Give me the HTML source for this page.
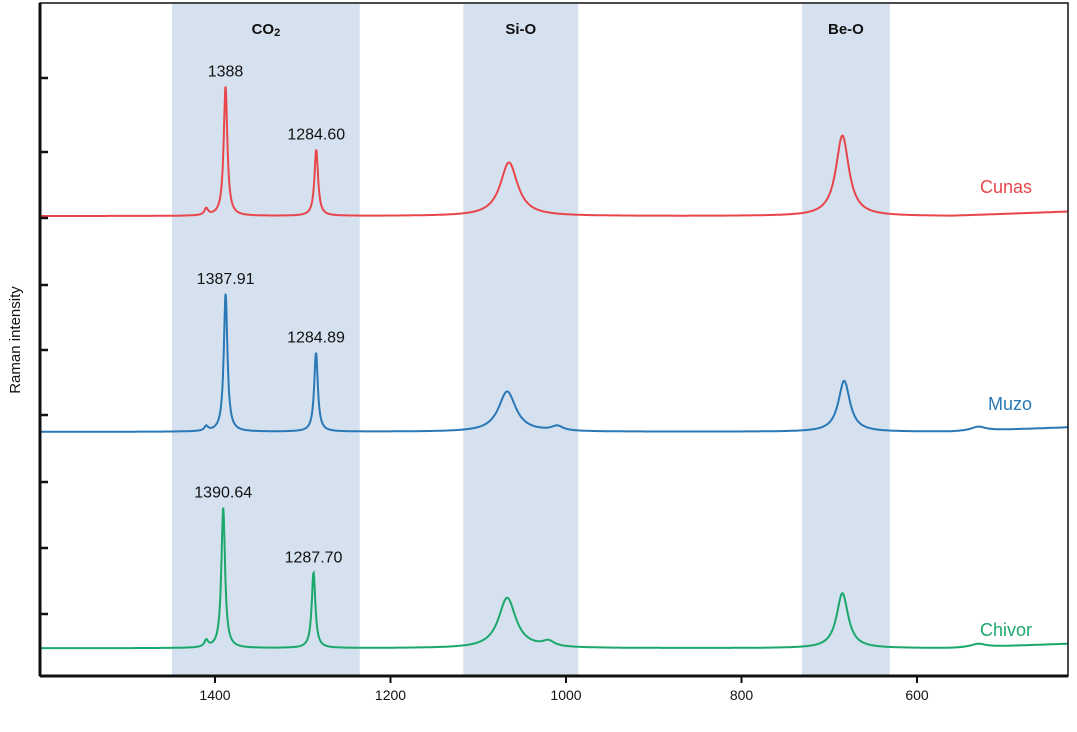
<!DOCTYPE html>
<html><head><meta charset="utf-8"><style>
body{margin:0;background:#fff;font-family:"Liberation Sans",Arial,sans-serif}
svg text{font-family:"Liberation Sans",Arial,sans-serif}
</style></head><body>
<svg id="c" width="1077" height="727" viewBox="0 0 1077 727">
<g id="bands"></g><g id="series"></g><g id="axes"></g>
</svg>
<script>
const xTicks=[1400,1200,1000,800,600];
const bandNames=["CO2","Si-O","Be-O"];
const bandFrom=[1449,1117,731];
const bandTo=[1235,986,631];
const seriesNames=["Cunas","Muzo","Chivor"];
const seriesBase=[6.85,3.63,0.4];
const cunasPos=[1410,1388,1284.6,1065,685];
const cunasAmp=[0.1,1.93,0.99,0.8,1.2];
const cunasWid=[2.5,2.5,2.5,12,9];
const muzoPos=[1410,1387.91,1284.89,1067,1010,683,530];
const muzoAmp=[0.07,2.06,1.18,0.6,0.07,0.76,0.06];
const muzoWid=[2.5,2.5,2.5,12,8,8,10];
const chivorPos=[1410,1390.64,1287.7,1067,1020,685,530];
const chivorAmp=[0.1,2.1,1.13,0.75,0.08,0.82,0.05];
const chivorWid=[2.5,2.5,2.5,12,8,8,10];
const peakLabels=[["1388","1284.60"],["1387.91","1284.89"],["1390.64","1287.70"]];
const NS="http://www.w3.org/2000/svg";
const L=40,R=1068,T=3,B=676;
const xS=v=>215+(1400-v)*0.8775;
const yS=v=>675-v*67;
function el(t,a,p){const e=document.createElementNS(NS,t);for(const k in a)e.setAttribute(k,a[k]);p.appendChild(e);return e;}
const bands=document.getElementById('bands'),ser=document.getElementById('series'),ax=document.getElementById('axes');
bandNames.forEach((n,i)=>{
 const r=el('rect',{x:xS(bandFrom[i]),y:T,width:xS(bandTo[i])-xS(bandFrom[i]),height:B-T,fill:'#d6e1f0'},bands);
 
 
 const t=el('text',{x:(xS(bandFrom[i])+xS(bandTo[i]))/2,y:34,'text-anchor':'middle','font-size':15,'font-weight':'bold',fill:'#111'},bands);
 
 
 if(n==="CO2"){t.textContent="CO";const s=el('tspan',{'font-size':11,dy:2},t);s.textContent="2";}else t.textContent=n;
});
const colors=["#e8464b","#2a78b5","#1ba86c"];
const pos=[cunasPos,muzoPos,chivorPos],amp=[cunasAmp,muzoAmp,chivorAmp],wid=[cunasWid,muzoWid,chivorWid];
const labY=[193,410,636];
seriesNames.forEach((n,s)=>{
 let d="";
 for(let v=1599;v>=428;v-=0.5){
  let y=seriesBase[s];
  pos[s].forEach((p,k)=>{y+=amp[s][k]/(1+((v-p)/wid[s][k])**2);});
  if(v<560)y+=(560-v)*0.0005;
  d+=(d?"L":"M")+xS(v).toFixed(1)+","+yS(y).toFixed(1);
 }
 const p=el('path',{d,fill:'none',stroke:colors[s],'stroke-width':2},ser);
 
 
 const t=el('text',{x:1032,y:labY[s],'text-anchor':'end','font-size':18,fill:colors[s]},ser);
 
 
 t.textContent=n;
 [1,2].forEach((k,j)=>{
  const py=yS(seriesBase[s]+amp[s][k]);
  const lt=el('text',{x:xS(pos[s][k]),y:py-10,'text-anchor':'middle','font-size':16,fill:'#111'},ser);
  
  
  lt.textContent=peakLabels[s][j];
 });
});
const f=el('rect',{x:L,y:T,width:R-L,height:B-T,fill:'none',stroke:'#111','stroke-width':1.5},ax);


const b=el('line',{x1:L,x2:R,y1:B,y2:B,stroke:'#111','stroke-width':3},ax);


const lft=el('line',{x1:L,x2:L,y1:T,y2:B,stroke:'#111','stroke-width':3},ax);


xTicks.forEach(v=>{
 const tk=el('line',{x1:xS(v),x2:xS(v),y1:B,y2:B+7,stroke:'#111','stroke-width':2},ax);
 
 
 const t=el('text',{x:xS(v),y:B+24,'text-anchor':'middle','font-size':14,fill:'#111'},ax);
 
 
 t.textContent=v;
});
[78,152,218,285,350,415,482,548,614].forEach(y=>{
 const tk=el('line',{x1:L,x2:L+8,y1:y,y2:y,stroke:'#111','stroke-width':2.5},ax);
 
 
});
const yl=el('text',{x:20,y:340,'text-anchor':'middle','font-size':15,fill:'#111',transform:'rotate(-90 20 340)'},ax);


yl.textContent="Raman intensity";
</script>
</body></html>
